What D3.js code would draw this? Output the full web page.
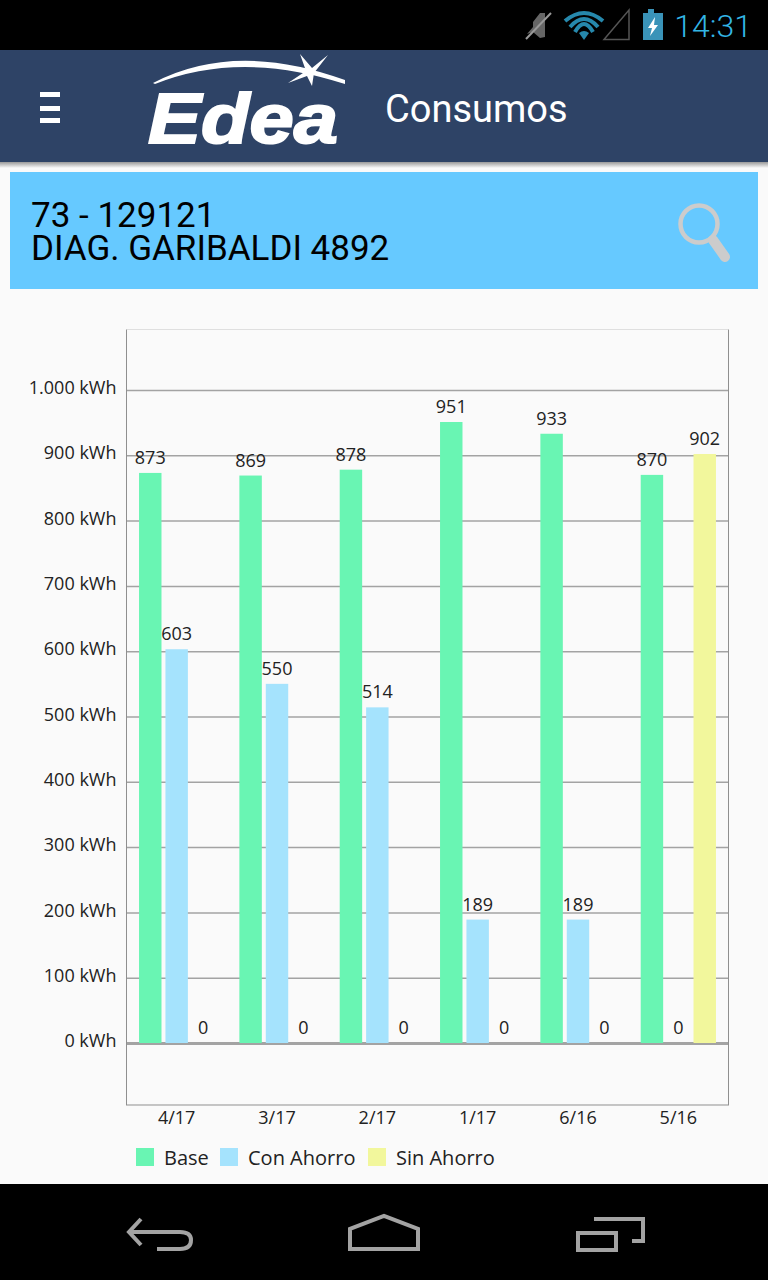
<!DOCTYPE html>
<html>
<head>
<meta charset="utf-8">
<script src="https://cdnjs.cloudflare.com/ajax/libs/d3/7.8.5/d3.min.js"></script>
<style>
  html, body { margin: 0; padding: 0; background: #000; }
  svg { display: block; }
</style>
</head>
<body>
<svg width="768" height="1280"></svg>
<script>
const categories = ["4/17", "3/17", "2/17", "1/17", "6/16", "5/16"];
const seriesNames = ["Base", "Con Ahorro", "Sin Ahorro"];
const base = [873, 869, 878, 951, 933, 870];
const conAhorro = [603, 550, 514, 189, 189, 0];
const sinAhorro = [0, 0, 0, 0, 0, 902];
const yTicks = [0, 100, 200, 300, 400, 500, 600, 700, 800, 900, 1000];
const colors = ["#69f5b3", "#a5e3fd", "#f2f79c"];

const svg = d3.select("svg");
const chartFont = "'Open Sans'";

// app chrome
svg.append("rect").attr("width", 768).attr("height", 1280).attr("fill", "#fafafa");
svg.append("rect").attr("width", 768).attr("height", 50).attr("fill", "#000");
svg.append("rect").attr("y", 1184).attr("width", 768).attr("height", 96).attr("fill", "#000");

const defs = svg.append("defs");
const shadow = defs.append("linearGradient").attr("id", "shadow").attr("x2", 0).attr("y2", 1);
shadow.append("stop").attr("offset", 0).attr("stop-color", "#999");
shadow.append("stop").attr("offset", 1).attr("stop-color", "#fafafa");
svg.append("rect").attr("y", 50).attr("width", 768).attr("height", 112).attr("fill", "#2e4366");
svg.append("rect").attr("y", 162).attr("width", 768).attr("height", 6).attr("fill", "url(#shadow)");

// status bar
const blue = "#33b5e5";
svg.append("text").attr("x", 752).attr("y", 37).attr("text-anchor", "end")
  .attr("font-family", "Roboto").attr("font-weight", 300).attr("font-size", 32).attr("fill", blue).text("14:31");
svg.append("path").attr("d", "M527 34 L533 27 L533 22 L540 13 L545 13 L545 37 L540 38 L533 32 Z").attr("fill", "#666");
svg.append("path").attr("d", "M526 39 L551 13").attr("stroke", "#999").attr("stroke-width", 2);
[[565, 21, 603, 21], [570, 27, 598, 27], [575, 32, 593, 32]].forEach(a => {
  svg.append("path").attr("d", `M${a[0]} ${a[1]} Q584 ${a[1] - 16} ${a[2]} ${a[3]}`)
    .attr("fill", "none").attr("stroke", blue).attr("stroke-width", 4).attr("opacity", 0.75);
});
svg.append("path").attr("d", "M579 33 Q584 29 589 33 L584 40 Z").attr("fill", blue).attr("opacity", 0.75);
svg.append("path").attr("d", "M604 39.5 L629 10 L629 39.5 Z").attr("fill", "none").attr("stroke", "#555").attr("stroke-width", 1.5);
svg.append("rect").attr("x", 648).attr("y", 9).attr("width", 6).attr("height", 4).attr("fill", "#3a93b8");
svg.append("rect").attr("x", 643).attr("y", 13).attr("width", 20).attr("height", 27).attr("fill", "#3a93b8");
svg.append("path").attr("d", "M655 17 L648 28 L652 28 L650 36 L658 25 L654 25 Z").attr("fill", "#fff");

// header
svg.append("g").selectAll("rect").data([92, 106, 118]).join("rect")
  .attr("x", 40).attr("y", d => d).attr("width", 20).attr("height", 5).attr("fill", "#fff");
svg.append("path").attr("d", "M153 83 Q235 40 345 80 L345 84 Q240 50 155 84 Z").attr("fill", "#fff");
svg.append("path").attr("d", "M328 55 L312 68 L300 54 L306 71 L288 83 L307 76 L312 86 L314 73 Z").attr("fill", "#fff");
svg.append("text").attr("x", 148).attr("y", 143)
  .attr("font-family", "'Liberation Sans'").attr("font-weight", 700).attr("font-style", "italic")
  .attr("font-size", 71).attr("textLength", 190).attr("lengthAdjust", "spacingAndGlyphs")
  .attr("stroke", "#fff").attr("stroke-width", 2).attr("fill", "#fff").text("Edea");
svg.append("text").attr("x", 385).attr("y", 122)
  .attr("font-family", "Roboto").attr("font-size", 38).attr("fill", "#fff").text("Consumos");

// address panel
svg.append("rect").attr("x", 10).attr("y", 172).attr("width", 748).attr("height", 117).attr("fill", "#66c9ff");
svg.append("text").attr("x", 31).attr("y", 227).attr("font-family", "Roboto").attr("font-size", 35).attr("fill", "#000").text("73 - 129121");
svg.append("text").attr("x", 31).attr("y", 260).attr("font-family", "Roboto").attr("font-size", 35).attr("fill", "#000").text("DIAG. GARIBALDI 4892");
svg.append("circle").attr("cx", 699).attr("cy", 224).attr("r", 18.5).attr("fill", "none").attr("stroke", "#ccc").attr("stroke-width", 4.5);
svg.append("path").attr("d", "M713 240 L725 257").attr("stroke", "#ccc").attr("stroke-width", 10).attr("stroke-linecap", "round");

// chart
const plot = { left: 126.5, right: 728.5, top: 329, bottom: 1105 };

const y = d3.scaleLinear().domain([0, 1000]).range([1043, 390]);
const x0 = d3.scaleBand().domain(categories).range([plot.left, plot.right])
  .paddingInner(0.25).paddingOuter(0.125);
const x1 = d3.scaleBand().domain(seriesNames).range([0, x0.bandwidth()]).paddingInner(0.15);

const yAxis = svg.append("g")
  .attr("transform", `translate(${plot.left},0)`)
  .call(d3.axisLeft(y).tickValues(yTicks)
    .tickSize(-(plot.right - plot.left))
    .tickPadding(10)
    .tickFormat(d => (d >= 1000 ? d3.format(",")(d).replace(",", ".") : d) + " kWh"));
yAxis.select(".domain").remove();
yAxis.selectAll("line").attr("stroke", "#a3a3a3").attr("stroke-width", d => d === 0 ? 3 : 1.5);
yAxis.selectAll("text").attr("font-family", chartFont).attr("font-size", 18).attr("fill", "#222").attr("dy", "0.2em");

svg.append("rect")
  .attr("x", plot.left).attr("y", plot.top)
  .attr("width", plot.right - plot.left).attr("height", plot.bottom - plot.top)
  .attr("fill", "none").attr("stroke", "#8f8f8f").attr("stroke-width", 1);
// the box has no top edge
svg.append("rect").attr("x", plot.left - 1).attr("y", plot.top - 2).attr("width", plot.right - plot.left + 2).attr("height", 2.5).attr("fill", "#fafafa");

const xAxis = svg.append("g")
  .attr("transform", `translate(0,${plot.bottom})`)
  .call(d3.axisBottom(x0).tickSize(0).tickPadding(6));
xAxis.select(".domain").remove();
xAxis.selectAll("text").attr("font-family", chartFont).attr("font-size", 18).attr("fill", "#222");

const seriesValues = [base, conAhorro, sinAhorro];
seriesValues.forEach((values, s) => {
  const name = seriesNames[s];
  const g = svg.append("g");
  g.selectAll("rect").data(values).join("rect")
    .attr("x", (d, i) => x0(categories[i]) + x1(name))
    .attr("y", d => y(d))
    .attr("width", x1.bandwidth())
    .attr("height", d => y(0) - y(d))
    .attr("fill", colors[s]);
  g.selectAll("text").data(values).join("text")
    .attr("x", (d, i) => x0(categories[i]) + x1(name) + x1.bandwidth() / 2)
    .attr("y", d => y(d) - 9)
    .attr("text-anchor", "middle")
    .attr("font-family", chartFont).attr("font-size", 18).attr("fill", "#222")
    .text(d => d);
});

// legend
const legendX = [136, 220, 368];
const legend = svg.append("g").selectAll("g").data(seriesNames).join("g")
  .attr("transform", (d, i) => `translate(${legendX[i]},1148)`);
legend.append("rect").attr("width", 18).attr("height", 18).attr("fill", (d, i) => colors[i]);
legend.append("text").attr("x", 28).attr("y", 17)
  .attr("font-family", chartFont).attr("font-size", 20).attr("fill", "#222").text(d => d);

// nav bar
const nav = svg.append("g").attr("fill", "none").attr("stroke", "#a3a3a3").attr("stroke-width", 4);
nav.append("path").attr("d", "M157 1249 L180 1249 Q191 1249 191 1240 Q191 1232 180 1232 L130 1232");
nav.append("path").attr("d", "M141 1219 L129 1232 L141 1245");
nav.append("path").attr("d", "M350 1249 L350 1229 L384 1216 L418 1229 L418 1249 Z");
nav.append("path").attr("d", "M578 1233 L616 1233 L616 1250 L578 1250 Z");
nav.append("path").attr("d", "M594 1219 L643 1219 L643 1241 L632 1241");
</script>
</body>
</html>
